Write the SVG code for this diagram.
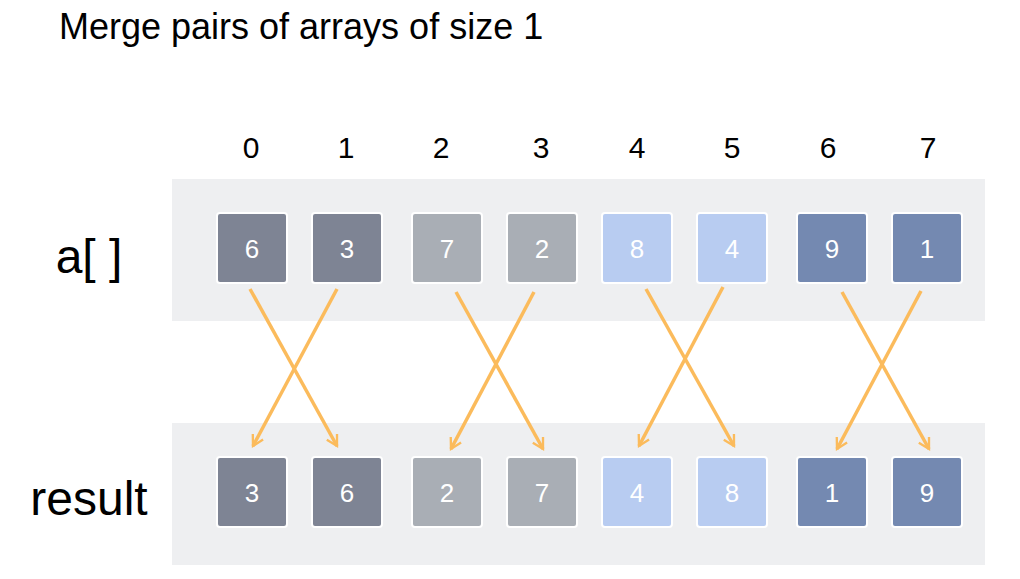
<svg xmlns="http://www.w3.org/2000/svg" width="1020" height="579" viewBox="0 0 1020 579">
<defs>
<style>
text{font-family:"Liberation Sans",Arial,sans-serif}
.idx{font-size:30px;fill:#000;text-anchor:middle}
.v{font-size:26px;fill:#fff;text-anchor:middle}
.b{stroke:#fff;stroke-width:2}
.c1{fill:#7e8494}.c2{fill:#a9aeb5}.c3{fill:#b8ccf1}.c4{fill:#7489b1}
.a{stroke:#fbbb5c;stroke-width:3.5;fill:none;marker-end:url(#ah)}
</style>
<marker id="ah" viewBox="0 0 12 12" refX="10" refY="6" markerWidth="4" markerHeight="4" orient="auto" markerUnits="strokeWidth">
<path d="M1,1 L10,6 L1,11" fill="none" stroke="#fbbb5c" stroke-width="2"/>
</marker>
</defs>
<rect width="1020" height="579" fill="#fff"/>
<text x="59" y="39" font-size="36" fill="#000">Merge pairs of arrays of size 1</text>
<rect x="172" y="179" width="813" height="142" fill="#eeeff1"/>
<rect x="172" y="423" width="813" height="142" fill="#eeeff1"/>
<text x="89" y="273" font-size="48" text-anchor="middle">a[ ]</text>
<text x="89" y="515" font-size="48" text-anchor="middle">result</text>
<g class="idx"><text x="251" y="158">0</text><text x="346" y="158">1</text><text x="441" y="158">2</text><text x="541" y="158">3</text><text x="637" y="158">4</text><text x="732" y="158">5</text><text x="828" y="158">6</text><text x="928" y="158">7</text></g>
<g id="a0"><rect class="b c1" x="217" y="213" width="70" height="70" rx="3"/><text class="v" x="252" y="258">6</text></g>
<g id="a1"><rect class="b c1" x="312" y="213" width="70" height="70" rx="3"/><text class="v" x="347" y="258">3</text></g>
<g id="a2"><rect class="b c2" x="412" y="213" width="70" height="70" rx="3"/><text class="v" x="447" y="258">7</text></g>
<g id="a3"><rect class="b c2" x="507" y="213" width="70" height="70" rx="3"/><text class="v" x="542" y="258">2</text></g>
<g id="a4"><rect class="b c3" x="602" y="213" width="70" height="70" rx="3"/><text class="v" x="637" y="258">8</text></g>
<g id="a5"><rect class="b c3" x="697" y="213" width="70" height="70" rx="3"/><text class="v" x="732" y="258">4</text></g>
<g id="a6"><rect class="b c4" x="797" y="213" width="70" height="70" rx="3"/><text class="v" x="832" y="258">9</text></g>
<g id="a7"><rect class="b c4" x="892" y="213" width="70" height="70" rx="3"/><text class="v" x="927" y="258">1</text></g>
<g id="r0"><rect class="b c1" x="217" y="457" width="70" height="70" rx="3"/><text class="v" x="252" y="502">3</text></g>
<g id="r1"><rect class="b c1" x="312" y="457" width="70" height="70" rx="3"/><text class="v" x="347" y="502">6</text></g>
<g id="r2"><rect class="b c2" x="412" y="457" width="70" height="70" rx="3"/><text class="v" x="447" y="502">2</text></g>
<g id="r3"><rect class="b c2" x="507" y="457" width="70" height="70" rx="3"/><text class="v" x="542" y="502">7</text></g>
<g id="r4"><rect class="b c3" x="602" y="457" width="70" height="70" rx="3"/><text class="v" x="637" y="502">4</text></g>
<g id="r5"><rect class="b c3" x="697" y="457" width="70" height="70" rx="3"/><text class="v" x="732" y="502">8</text></g>
<g id="r6"><rect class="b c4" x="797" y="457" width="70" height="70" rx="3"/><text class="v" x="832" y="502">1</text></g>
<g id="r7"><rect class="b c4" x="892" y="457" width="70" height="70" rx="3"/><text class="v" x="927" y="502">9</text></g>
<g id="connectors">
<line class="a" x1="250" y1="289" x2="337" y2="446"/>
<line class="a" x1="337" y1="289" x2="253" y2="446"/>
<line class="a" x1="456" y1="292" x2="543" y2="449"/>
<line class="a" x1="534" y1="292" x2="451" y2="449"/>
<line class="a" x1="646" y1="289" x2="734" y2="446"/>
<line class="a" x1="723" y1="287" x2="639" y2="446"/>
<line class="a" x1="842" y1="292" x2="929" y2="449"/>
<line class="a" x1="921" y1="291" x2="837" y2="449"/>
</g>
</svg>
